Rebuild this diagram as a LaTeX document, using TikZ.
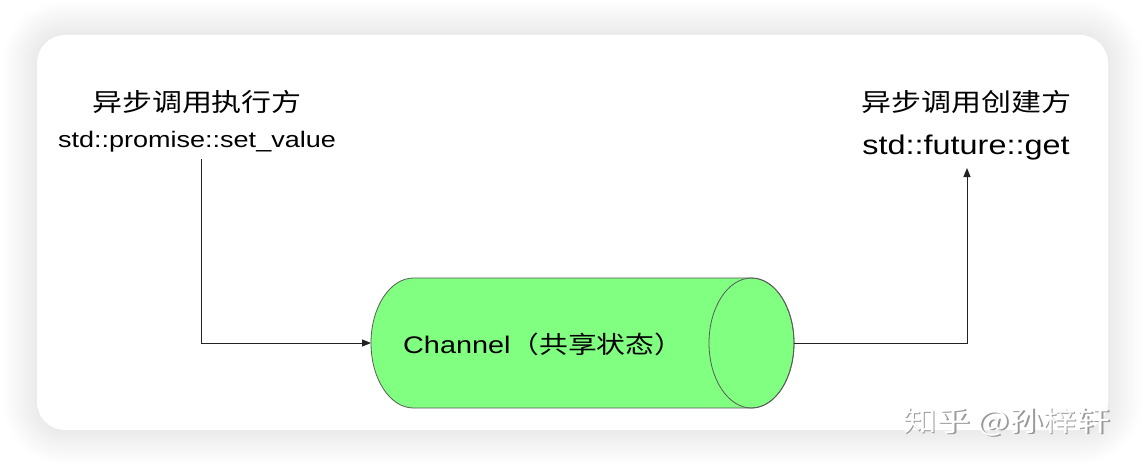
\documentclass[tikz,border=0pt]{standalone}
\usepackage{fontspec}
\setmainfont{Liberation Sans}[FakeStretch=1.2]
\newfontfamily\cjk{Noto Sans CJK SC}[FakeStretch=1.2]
\usetikzlibrary{arrows.meta}
\definecolor{cylgreen}{HTML}{80FF80}
\definecolor{cylline}{HTML}{5A5A5A}
\definecolor{wline}{HTML}{222222}
\definecolor{wmshadow}{HTML}{9A9A9A}
\begin{document}
\begin{tikzpicture}[x=1pt,y=1pt,
  conn/.style={draw=wline, line width=1pt, -{Triangle[length=9pt,width=7pt]}},
  lbl/.style={inner sep=0pt, anchor=base, text=black},
  cylstyle/.style={fill=cylgreen, draw=cylline, line width=0.8pt}]
\useasboundingbox (0,0) rectangle (1144,-466);
\fill[white] (0,0) rectangle (1144,-466);
% card shadow
\foreach \e in {34,32.3,...,1.5}{
  \pgfmathsetmacro\rr{28+\e}
  \fill[black,opacity=0.005,rounded corners=\rr pt] (37-\e,-35+\e) rectangle (1108+\e,-430-\e);
}
% card
\fill[white,rounded corners=28pt] (37,-35) rectangle (1108,-430);
% cylinder
\filldraw[cylstyle] (413.5,-278) -- (751.5,-278)
  arc[start angle=90,end angle=-90,x radius=42.5,y radius=65]
  -- (413.5,-408)
  arc[start angle=270,end angle=90,x radius=42.5,y radius=65] -- cycle;
\draw[cylline,line width=0.8pt] (751.5,-343) ellipse [x radius=42.5,y radius=65];
\coordinate (cylL) at (371,-343);
\coordinate (cylR) at (794,-343);
\node[lbl,anchor=base west,font=\fontsize{24}{28}\selectfont] (chan) at (403,-353) {Channel{\cjk （共享状态）}};
% labels
\node[lbl,font=\cjk\fontsize{25}{30}\selectfont] (execT) at (197,-111) {异步调用执行方};
\node[lbl,font=\fontsize{22.5}{27}\selectfont] (execF) at (197,-147) {std::promise::set\_value};
\node[lbl,font=\cjk\fontsize{25}{30}\selectfont] (creT) at (966,-111) {异步调用创建方};
\node[lbl,font=\fontsize{27}{32}\selectfont] (creF) at (966,-154) {std::future::get};
% connectors
\coordinate (aS) at (201,-159);
\coordinate (aE) at (967,-168);
\draw[conn] (aS) |- (cylL);
\draw[conn] (cylR) -| (aE);
% watermark
\node[lbl,anchor=base west,font=\cjk\fontsize{28}{32}\selectfont,text=wmshadow] (wms) at (904.5,-432.5) {知乎 @孙梓轩};
\node[lbl,anchor=base west,font=\cjk\fontsize{28}{32}\selectfont,text=white] (wm) at (903,-431) {知乎 @孙梓轩};
\end{tikzpicture}
\end{document}
